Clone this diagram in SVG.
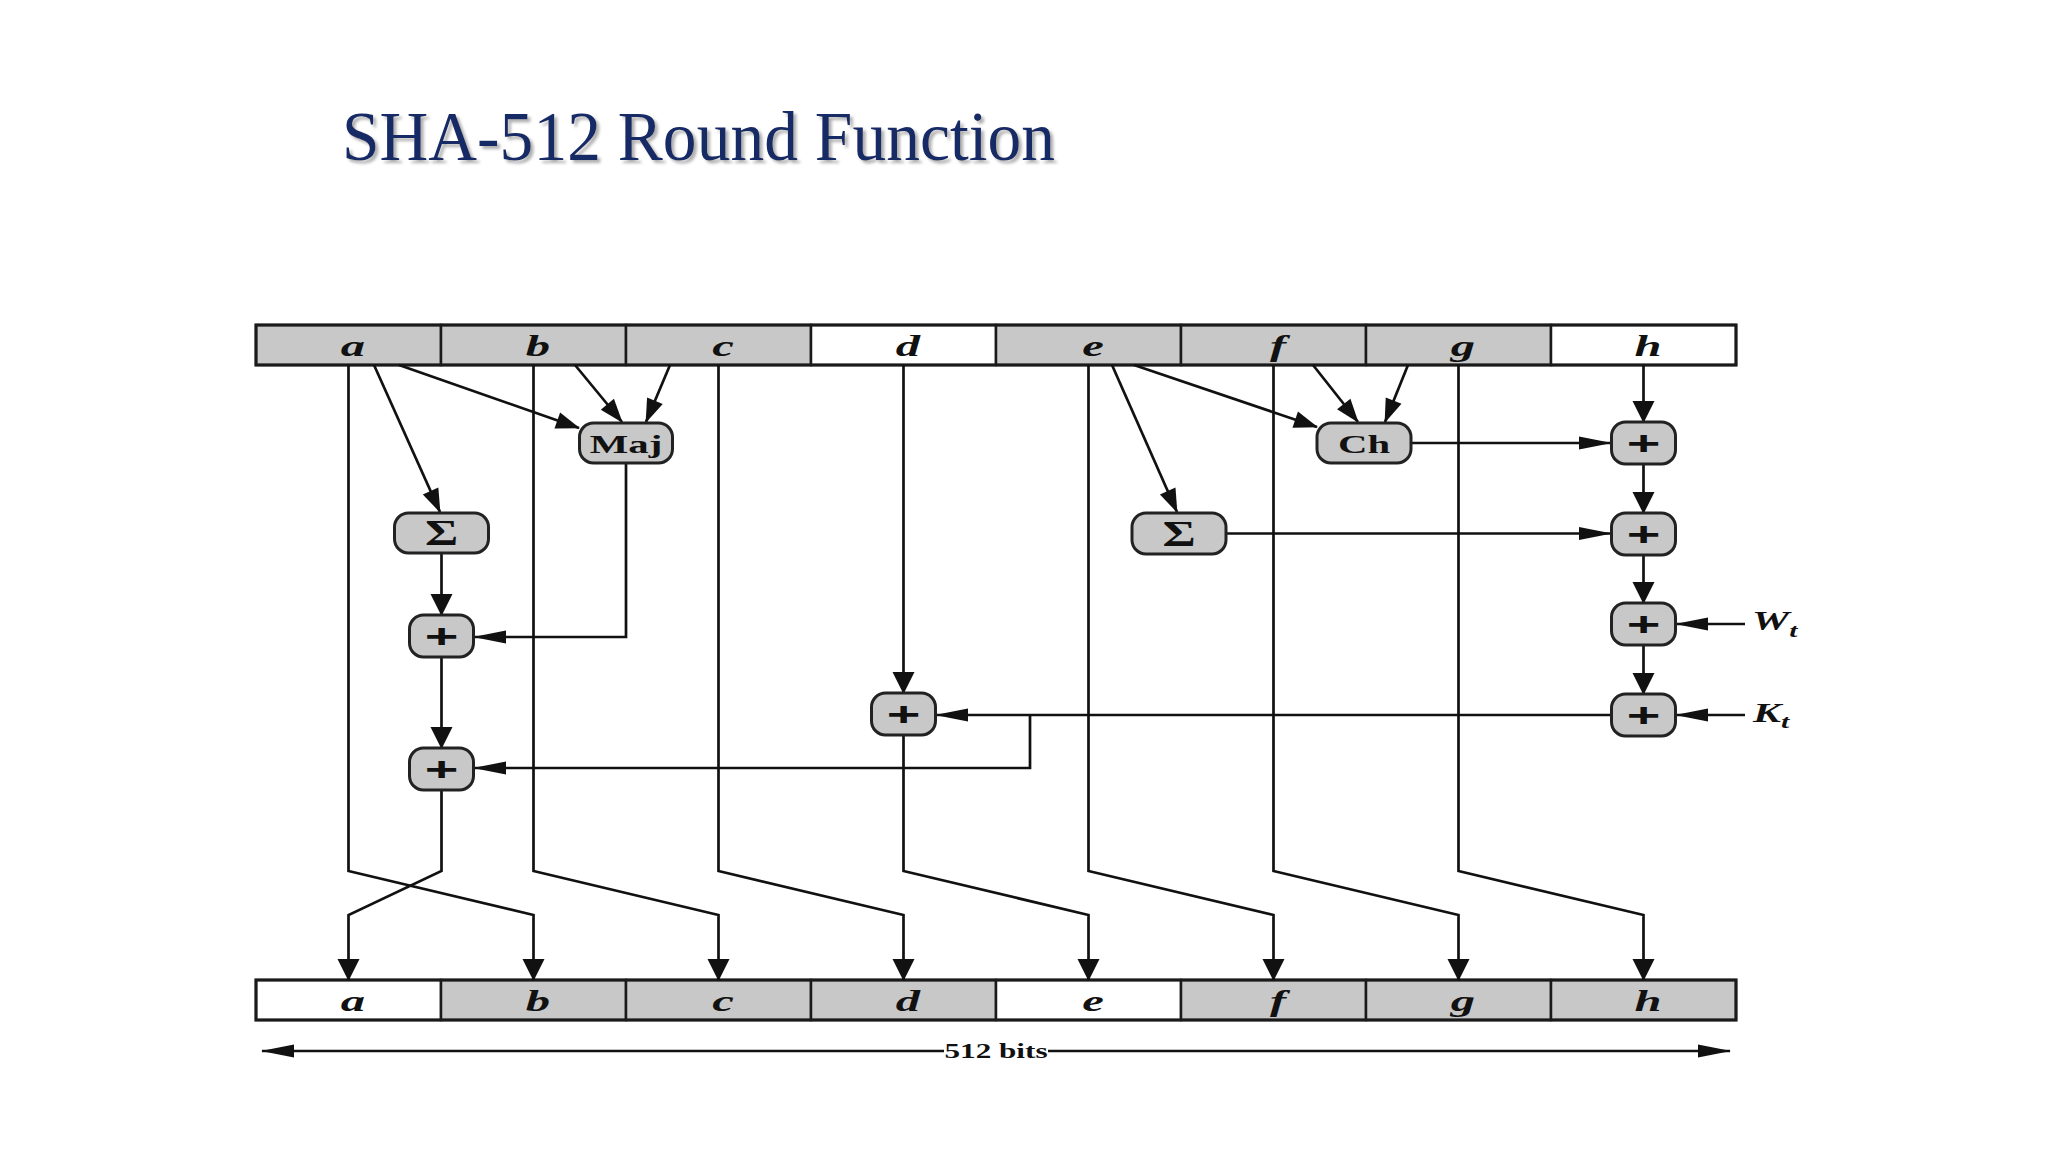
<svg xmlns="http://www.w3.org/2000/svg" width="2048" height="1152" viewBox="0 0 2048 1152">
<style>
.bg{fill:#ffffff}
.g{fill:#c8c8c8;stroke:#1a1a1a;stroke-width:2.5}
.w{fill:#ffffff;stroke:#1a1a1a;stroke-width:2.5}
.frame{fill:none;stroke:#1a1a1a;stroke-width:3}
.box{fill:#c8c8c8;stroke:#222;stroke-width:3}
.ln{fill:none;stroke:#111;stroke-width:2.7}
.lbl{font-family:"Liberation Serif",serif;font-weight:bold;font-style:italic;font-size:30px;fill:#111;text-anchor:middle}
.fn{font-family:"Liberation Serif",serif;font-weight:bold;font-size:26px;fill:#111;text-anchor:middle}
.sig{font-family:"Liberation Serif",serif;font-weight:bold;font-size:35px;fill:#111;text-anchor:middle}
.pl{font-family:"Liberation Sans",sans-serif;font-weight:bold;font-size:34px;fill:#111;text-anchor:middle}
.io{font-family:"Liberation Serif",serif;font-weight:bold;font-style:italic;font-size:27px;fill:#111}
.bits{font-family:"Liberation Serif",serif;font-weight:bold;font-size:20px;fill:#111;text-anchor:middle}
.title{font-family:"Liberation Serif",serif;font-size:69px;fill:#172966}
</style>
<defs>
<marker id="av" markerUnits="userSpaceOnUse" orient="auto" overflow="visible" markerWidth="1" markerHeight="1" refX="0" refY="0">
<path d="M-21,-11 L1,0 L-21,11 z" fill="#111"/>
</marker>
<marker id="ah" markerUnits="userSpaceOnUse" orient="auto" overflow="visible" markerWidth="1" markerHeight="1" refX="0" refY="0">
<path d="M-32,-6.5 L1,0 L-32,6.5 z" fill="#111"/>
</marker>
<marker id="ad" markerUnits="userSpaceOnUse" orient="auto" overflow="visible" markerWidth="1" markerHeight="1" refX="0" refY="0">
<path d="M-23,-8.5 L1,0 L-23,8.5 z" fill="#111"/>
</marker>
<filter id="shadow" x="-5%" y="-20%" width="110%" height="150%">
<feDropShadow dx="3" dy="3" stdDeviation="1.5" flood-color="#9a9a9a" flood-opacity="0.8"/>
</filter>
</defs>
<rect class="bg" x="0" y="0" width="2048" height="1152"/>

<g id="title">
<text class="title" x="342" y="160" textLength="713" lengthAdjust="spacingAndGlyphs" filter="url(#shadow)">SHA-512 Round Function</text>
</g>

<g id="top-register">
<g id="top-a"><rect class="g" x="256" y="325" width="185" height="40"/><text class="lbl" transform="translate(353,356) scale(1.62,1)">a</text></g>
<g id="top-b"><rect class="g" x="441" y="325" width="185" height="40"/><text class="lbl" transform="translate(538,356) scale(1.62,1)">b</text></g>
<g id="top-c"><rect class="g" x="626" y="325" width="185" height="40"/><text class="lbl" transform="translate(723,356) scale(1.62,1)">c</text></g>
<g id="top-d"><rect class="w" x="811" y="325" width="185" height="40"/><text class="lbl" transform="translate(908,356) scale(1.62,1)">d</text></g>
<g id="top-e"><rect class="g" x="996" y="325" width="185" height="40"/><text class="lbl" transform="translate(1093,356) scale(1.62,1)">e</text></g>
<g id="top-f"><rect class="g" x="1181" y="325" width="185" height="40"/><text class="lbl" transform="translate(1278,356) scale(1.62,1)">f</text></g>
<g id="top-g"><rect class="g" x="1366" y="325" width="185" height="40"/><text class="lbl" transform="translate(1463,356) scale(1.62,1)">g</text></g>
<g id="top-h"><rect class="w" x="1551" y="325" width="185" height="40"/><text class="lbl" transform="translate(1648,356) scale(1.62,1)">h</text></g>
<rect class="frame" x="256" y="325" width="1480" height="40"/>
</g>

<g id="bottom-register">
<g id="bot-a"><rect class="w" x="256" y="980" width="185" height="40"/><text class="lbl" transform="translate(353,1011) scale(1.62,1)">a</text></g>
<g id="bot-b"><rect class="g" x="441" y="980" width="185" height="40"/><text class="lbl" transform="translate(538,1011) scale(1.62,1)">b</text></g>
<g id="bot-c"><rect class="g" x="626" y="980" width="185" height="40"/><text class="lbl" transform="translate(723,1011) scale(1.62,1)">c</text></g>
<g id="bot-d"><rect class="g" x="811" y="980" width="185" height="40"/><text class="lbl" transform="translate(908,1011) scale(1.62,1)">d</text></g>
<g id="bot-e"><rect class="w" x="996" y="980" width="185" height="40"/><text class="lbl" transform="translate(1093,1011) scale(1.62,1)">e</text></g>
<g id="bot-f"><rect class="g" x="1181" y="980" width="185" height="40"/><text class="lbl" transform="translate(1278,1011) scale(1.62,1)">f</text></g>
<g id="bot-g"><rect class="g" x="1366" y="980" width="185" height="40"/><text class="lbl" transform="translate(1463,1011) scale(1.62,1)">g</text></g>
<g id="bot-h"><rect class="g" x="1551" y="980" width="185" height="40"/><text class="lbl" transform="translate(1648,1011) scale(1.62,1)">h</text></g>
<rect class="frame" x="256" y="980" width="1480" height="40"/>
</g>

<g id="connectors">
<path class="ln" d="M348.5,365 V871 L533.5,915 V980" marker-end="url(#av)"/>
<path class="ln" d="M533.5,365 V871 L718.5,915 V980" marker-end="url(#av)"/>
<path class="ln" d="M718.5,365 V871 L903.5,915 V980" marker-end="url(#av)"/>
<path class="ln" d="M903.5,365 V693" marker-end="url(#av)"/>
<path class="ln" d="M903.5,735 V871 L1088.5,915 V980" marker-end="url(#av)"/>
<path class="ln" d="M1088.5,365 V871 L1273.5,915 V980" marker-end="url(#av)"/>
<path class="ln" d="M1273.5,365 V871 L1458.5,915 V980" marker-end="url(#av)"/>
<path class="ln" d="M1458.5,365 V871 L1643.5,915 V980" marker-end="url(#av)"/>
<path class="ln" d="M441.5,790 V871 L348.5,915 V980" marker-end="url(#av)"/>
<path class="ln" d="M1643.5,365 V422" marker-end="url(#av)"/>
<path class="ln" d="M1643.5,464 V513" marker-end="url(#av)"/>
<path class="ln" d="M1643.5,555 V603" marker-end="url(#av)"/>
<path class="ln" d="M1643.5,645 V694" marker-end="url(#av)"/>
<path class="ln" d="M441.5,553 V615" marker-end="url(#av)"/>
<path class="ln" d="M441.5,657 V748" marker-end="url(#av)"/>
<path class="ln" d="M626,463 V637 H474" marker-end="url(#ah)"/>
<path class="ln" d="M374,365 L440,512" marker-end="url(#ad)"/>
<path class="ln" d="M399,365 L579,428" marker-end="url(#ad)"/>
<path class="ln" d="M575,365 L622,422" marker-end="url(#ad)"/>
<path class="ln" d="M670,365 L646,422" marker-end="url(#ad)"/>
<path class="ln" d="M1112,365 L1177,512" marker-end="url(#ad)"/>
<path class="ln" d="M1134,365 L1317,427" marker-end="url(#ad)"/>
<path class="ln" d="M1313,365 L1358,422" marker-end="url(#ad)"/>
<path class="ln" d="M1408,365 L1385,422" marker-end="url(#ad)"/>
<path class="ln" d="M1411,443 H1611" marker-end="url(#ah)"/>
<path class="ln" d="M1226,533.5 H1611" marker-end="url(#ah)"/>
<path class="ln" d="M1745,624 H1676" marker-end="url(#ah)"/>
<path class="ln" d="M1745,715 H1676" marker-end="url(#ah)"/>
<path class="ln" d="M1611.5,715 H936" marker-end="url(#ah)"/>
<path class="ln" d="M1030,715 V768 H474" marker-end="url(#ah)"/>
<path class="ln" d="M944,1051 H262" marker-end="url(#ah)"/>
<path class="ln" d="M1048,1051 H1730" marker-end="url(#ah)"/>
</g>

<g id="maj"><rect class="box" x="579.5" y="423" width="93" height="40" rx="14"/><text class="fn" transform="translate(626,453) scale(1.57,1)">Maj</text></g>
<g id="ch"><rect class="box" x="1317" y="423" width="94" height="40" rx="14"/><text class="fn" transform="translate(1364,453) scale(1.57,1)">Ch</text></g>
<g id="sigma0"><rect class="box" x="394.5" y="513" width="94" height="40" rx="14"/><text class="sig" transform="translate(441.5,545) scale(1.45,1)">Σ</text></g>
<g id="sigma1"><rect class="box" x="1132" y="513" width="94" height="41" rx="14"/><text class="sig" transform="translate(1179,545.5) scale(1.45,1)">Σ</text></g>

<g id="add-t2"><rect class="box" x="409.5" y="615" width="64" height="42" rx="14"/><text class="pl" transform="translate(441.5,648) scale(1.7,1)">+</text></g>
<g id="add-a"><rect class="box" x="409.5" y="748" width="64" height="42" rx="14"/><text class="pl" transform="translate(441.5,781) scale(1.7,1)">+</text></g>
<g id="add-e"><rect class="box" x="871.5" y="693" width="64" height="42" rx="14"/><text class="pl" transform="translate(903.5,726) scale(1.7,1)">+</text></g>
<g id="add-h1"><rect class="box" x="1611.5" y="422" width="64" height="42" rx="14"/><text class="pl" transform="translate(1643.5,455) scale(1.7,1)">+</text></g>
<g id="add-h2"><rect class="box" x="1611.5" y="513" width="64" height="42" rx="14"/><text class="pl" transform="translate(1643.5,546) scale(1.7,1)">+</text></g>
<g id="add-h3"><rect class="box" x="1611.5" y="603" width="64" height="42" rx="14"/><text class="pl" transform="translate(1643.5,636) scale(1.7,1)">+</text></g>
<g id="add-h4"><rect class="box" x="1611.5" y="694" width="64" height="42" rx="14"/><text class="pl" transform="translate(1643.5,727) scale(1.7,1)">+</text></g>

<g id="wt"><text class="io" transform="translate(1752,630) scale(1.55,1)">W<tspan font-size="19" dy="7">t</tspan></text></g>
<g id="kt"><text class="io" transform="translate(1753,722) scale(1.55,1)">K<tspan font-size="19" dy="6">t</tspan></text></g>

<g id="width-label"><text class="bits" transform="translate(996,1058) scale(1.56,1)">512 bits</text></g>
</svg>
